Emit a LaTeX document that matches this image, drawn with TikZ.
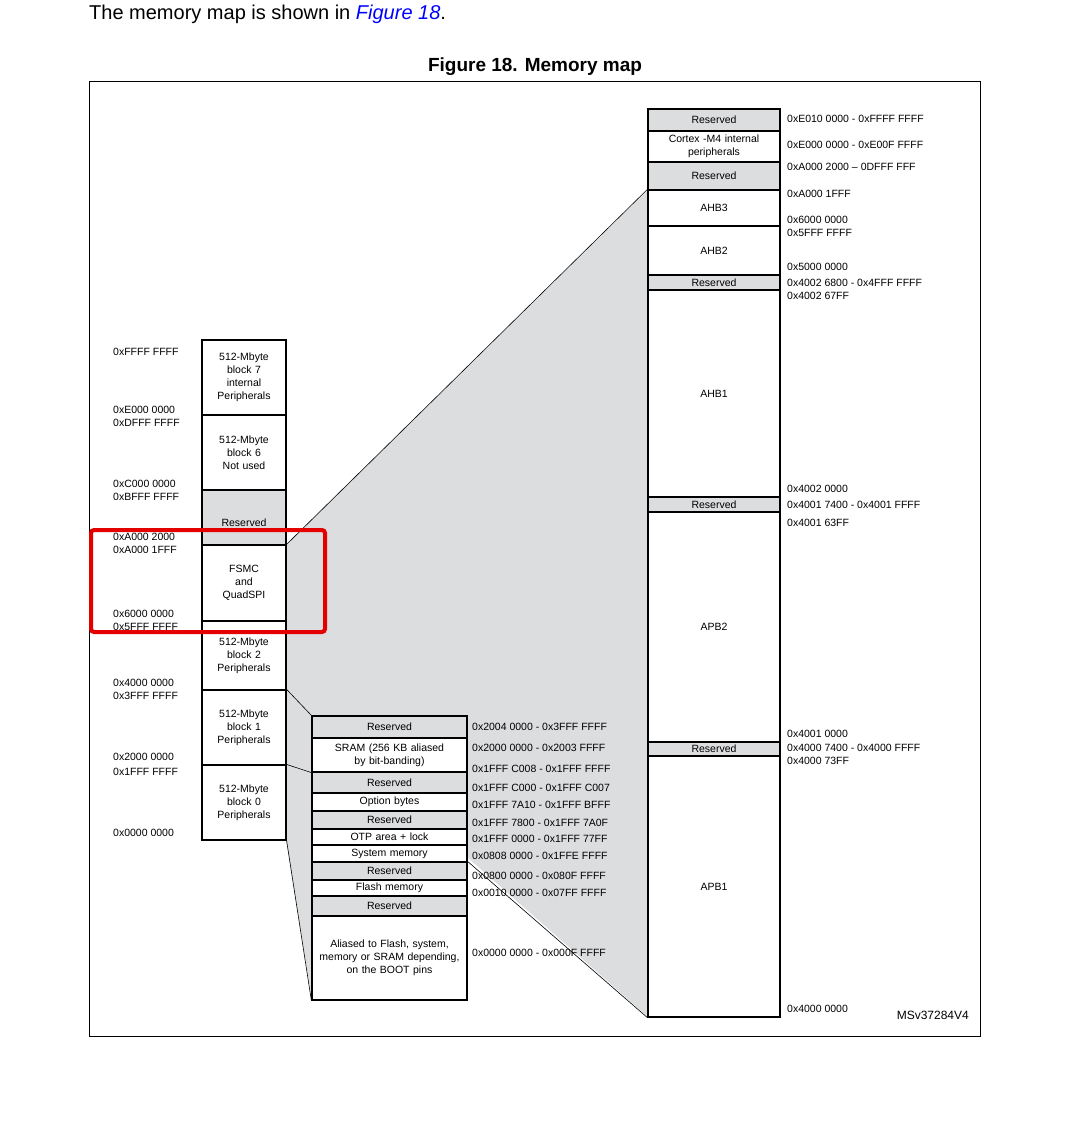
\documentclass[tikz,border=0pt]{standalone}
\usepackage{fontspec}
\setmainfont{Liberation Sans}
\begin{document}
\begin{tikzpicture}[x=1pt,y=-1pt,
  box/.style={draw,line width=1.2pt,inner sep=1pt,align=center,font=\fontsize{10.5}{13}\selectfont},
  addr/.style={anchor=west,inner sep=0pt,font=\fontsize{10.5}{12}\selectfont}]
\useasboundingbox (0,0) rectangle (1079,1137);
\definecolor{res}{RGB}{220,221,223}
\newcommand{\mrow}[7]{%
  \pgfmathsetmacro{\cx}{(#2+#3)/2}\pgfmathsetmacro{\cy}{(#4+#5)/2}%
  \pgfmathsetmacro{\ww}{#3-#2}\pgfmathsetmacro{\hh}{#5-#4}%
  \node[box,fill=#6,minimum width=\ww pt,minimum height=\hh pt,text width=\ww pt-4pt] (#1) at (\cx,\cy) {#7};}
% text
\node[anchor=west,inner sep=0pt,font=\fontsize{20}{24}\selectfont] (intro) at (89,14) {The memory map is shown in \textcolor{blue}{\textit{Figure 18}}.};
\node[font=\bfseries\fontsize{19}{22}\selectfont] (title) at (535,67) {Figure 18. Memory map};
\draw[line width=0.8pt] (89,81) rectangle (980,1036);
% gray zoom regions
\fill[res] (286,545) -- (648,190) -- (648,1017) -- (467,857) -- (467,716) -- (312,716) -- (286,690) -- cycle;
\fill[res] (286,690) -- (312,716) -- (312,1000) -- (286,840) -- cycle;
% left column
\mrow{b7}{202}{286}{340}{415}{white}{512-Mbyte\\block 7\\internal\\Peripherals}
\mrow{b6}{202}{286}{415}{490}{white}{512-Mbyte\\block 6\\Not used}
\mrow{b5}{202}{286}{490}{545}{res}{\\[5pt]Reserved}
\mrow{b4}{202}{286}{545}{621}{white}{FSMC\\and\\QuadSPI}
\mrow{b2}{202}{286}{621}{690}{white}{512-Mbyte\\block 2\\Peripherals\\[6pt]}
\mrow{b1}{202}{286}{690}{765}{white}{512-Mbyte\\block 1\\Peripherals}
\mrow{b0}{202}{286}{765}{840}{white}{512-Mbyte\\block 0\\Peripherals}
% lower column
\mrow{l1}{312}{467}{716}{738}{res}{Reserved}
\mrow{l2}{312}{467}{738}{772}{white}{SRAM (256 KB aliased\\by bit-banding)}
\mrow{l3}{312}{467}{772}{793}{res}{Reserved}
\mrow{l4}{312}{467}{793}{811}{white}{Option bytes}
\mrow{l5}{312}{467}{811}{829}{res}{Reserved}
\mrow{l6}{312}{467}{829}{845}{white}{OTP area + lock}
\mrow{l7}{312}{467}{845}{862}{white}{System memory}
\mrow{l8}{312}{467}{862}{880}{res}{Reserved}
\mrow{l9}{312}{467}{880}{896}{white}{Flash memory}
\mrow{l10}{312}{467}{896}{916}{res}{Reserved}
\mrow{l11}{312}{467}{916}{1000}{white}{Aliased to Flash, system,\\memory or SRAM depending,\\on the BOOT pins\\[16pt]}
% right column
\mrow{r1}{648}{780}{109}{131}{res}{Reserved}
\mrow{r2}{648}{780}{131}{162}{white}{Cortex -M4 internal\\peripherals}
\mrow{r3}{648}{780}{162}{190}{res}{Reserved}
\mrow{r4}{648}{780}{190}{226}{white}{AHB3}
\mrow{r5}{648}{780}{226}{275}{white}{AHB2\\[4pt]}
\mrow{r6}{648}{780}{275}{290}{res}{Reserved}
\mrow{r7}{648}{780}{290}{497}{white}{AHB1\\[12pt]}
\mrow{r8}{648}{780}{497}{512}{res}{Reserved}
\mrow{r9}{648}{780}{512}{742}{white}{APB2\\[12pt]}
\mrow{r10}{648}{780}{742}{756}{res}{Reserved}
\mrow{r11}{648}{780}{756}{1017}{white}{APB1\\[16pt]}
% zoom lines
\draw[line width=0.6pt] (b4.north east) -- (r4.north west);
\draw[line width=0.6pt] (l8.north east) -- (r11.south west);
\draw[line width=0.6pt] (b1.north east) -- (l1.north west);
\draw[line width=0.6pt] (b0.north east) -- (l2.south west);
\draw[line width=0.6pt] (b0.south east) -- (l11.south west);
% left addresses
\foreach \t/\y [count=\i] in {0xFFFF FFFF/352,0xE000 0000/410,0xDFFF FFFF/423,0xC000 0000/484,0xBFFF FFFF/497,0xA000 2000/537,0xA000 1FFF/550,0x6000 0000/614,0x5FFF FFFF/627,0x4000 0000/683,0x3FFF FFFF/696,0x2000 0000/757,0x1FFF FFFF/772,0x0000 0000/833}
  \node[addr] (la\i) at (113,\y) {\t};
\foreach \t/\y [count=\i] in {0x2004 0000 - 0x3FFF FFFF/727,0x2000 0000 - 0x2003 FFFF/748,0x1FFF C008 - 0x1FFF FFFF/769,0x1FFF C000 - 0x1FFF C007/788,0x1FFF 7A10 - 0x1FFF BFFF/805,0x1FFF 7800 - 0x1FFF 7A0F/823,0x1FFF 0000 - 0x1FFF 77FF/839,0x0808 0000 - 0x1FFE FFFF/856,0x0800 0000 - 0x080F FFFF/876,0x0010 0000 - 0x07FF FFFF/893,0x0000 0000 - 0x000F FFFF/953}
  \node[addr] (ma\i) at (472,\y) {\t};
\foreach \t/\y [count=\i] in {0xE010 0000 - 0xFFFF FFFF/119,0xE000 0000 - 0xE00F FFFF/145,0xA000 2000 -- 0DFFF FFF/167,0xA000 1FFF/194,0x6000 0000/220,0x5FFF FFFF/233,0x5000 0000/267,0x4002 6800 - 0x4FFF FFFF/283,0x4002 67FF/296,0x4002 0000/489,0x4001 7400 - 0x4001 FFFF/505,0x4001 63FF/523,0x4001 0000/734,0x4000 7400 - 0x4000 FFFF/748,0x4000 73FF/761,0x4000 0000/1009}
  \node[addr] (ra\i) at (787,\y) {\t};
\node[anchor=east,inner sep=0pt,font=\fontsize{12}{14}\selectfont] (ms) at (969,1015) {MSv37284V4};
% red highlight
\draw[red!90!black,line width=4pt,rounded corners=3pt] (91,530) rectangle (325,632);
\end{tikzpicture}
\end{document}
